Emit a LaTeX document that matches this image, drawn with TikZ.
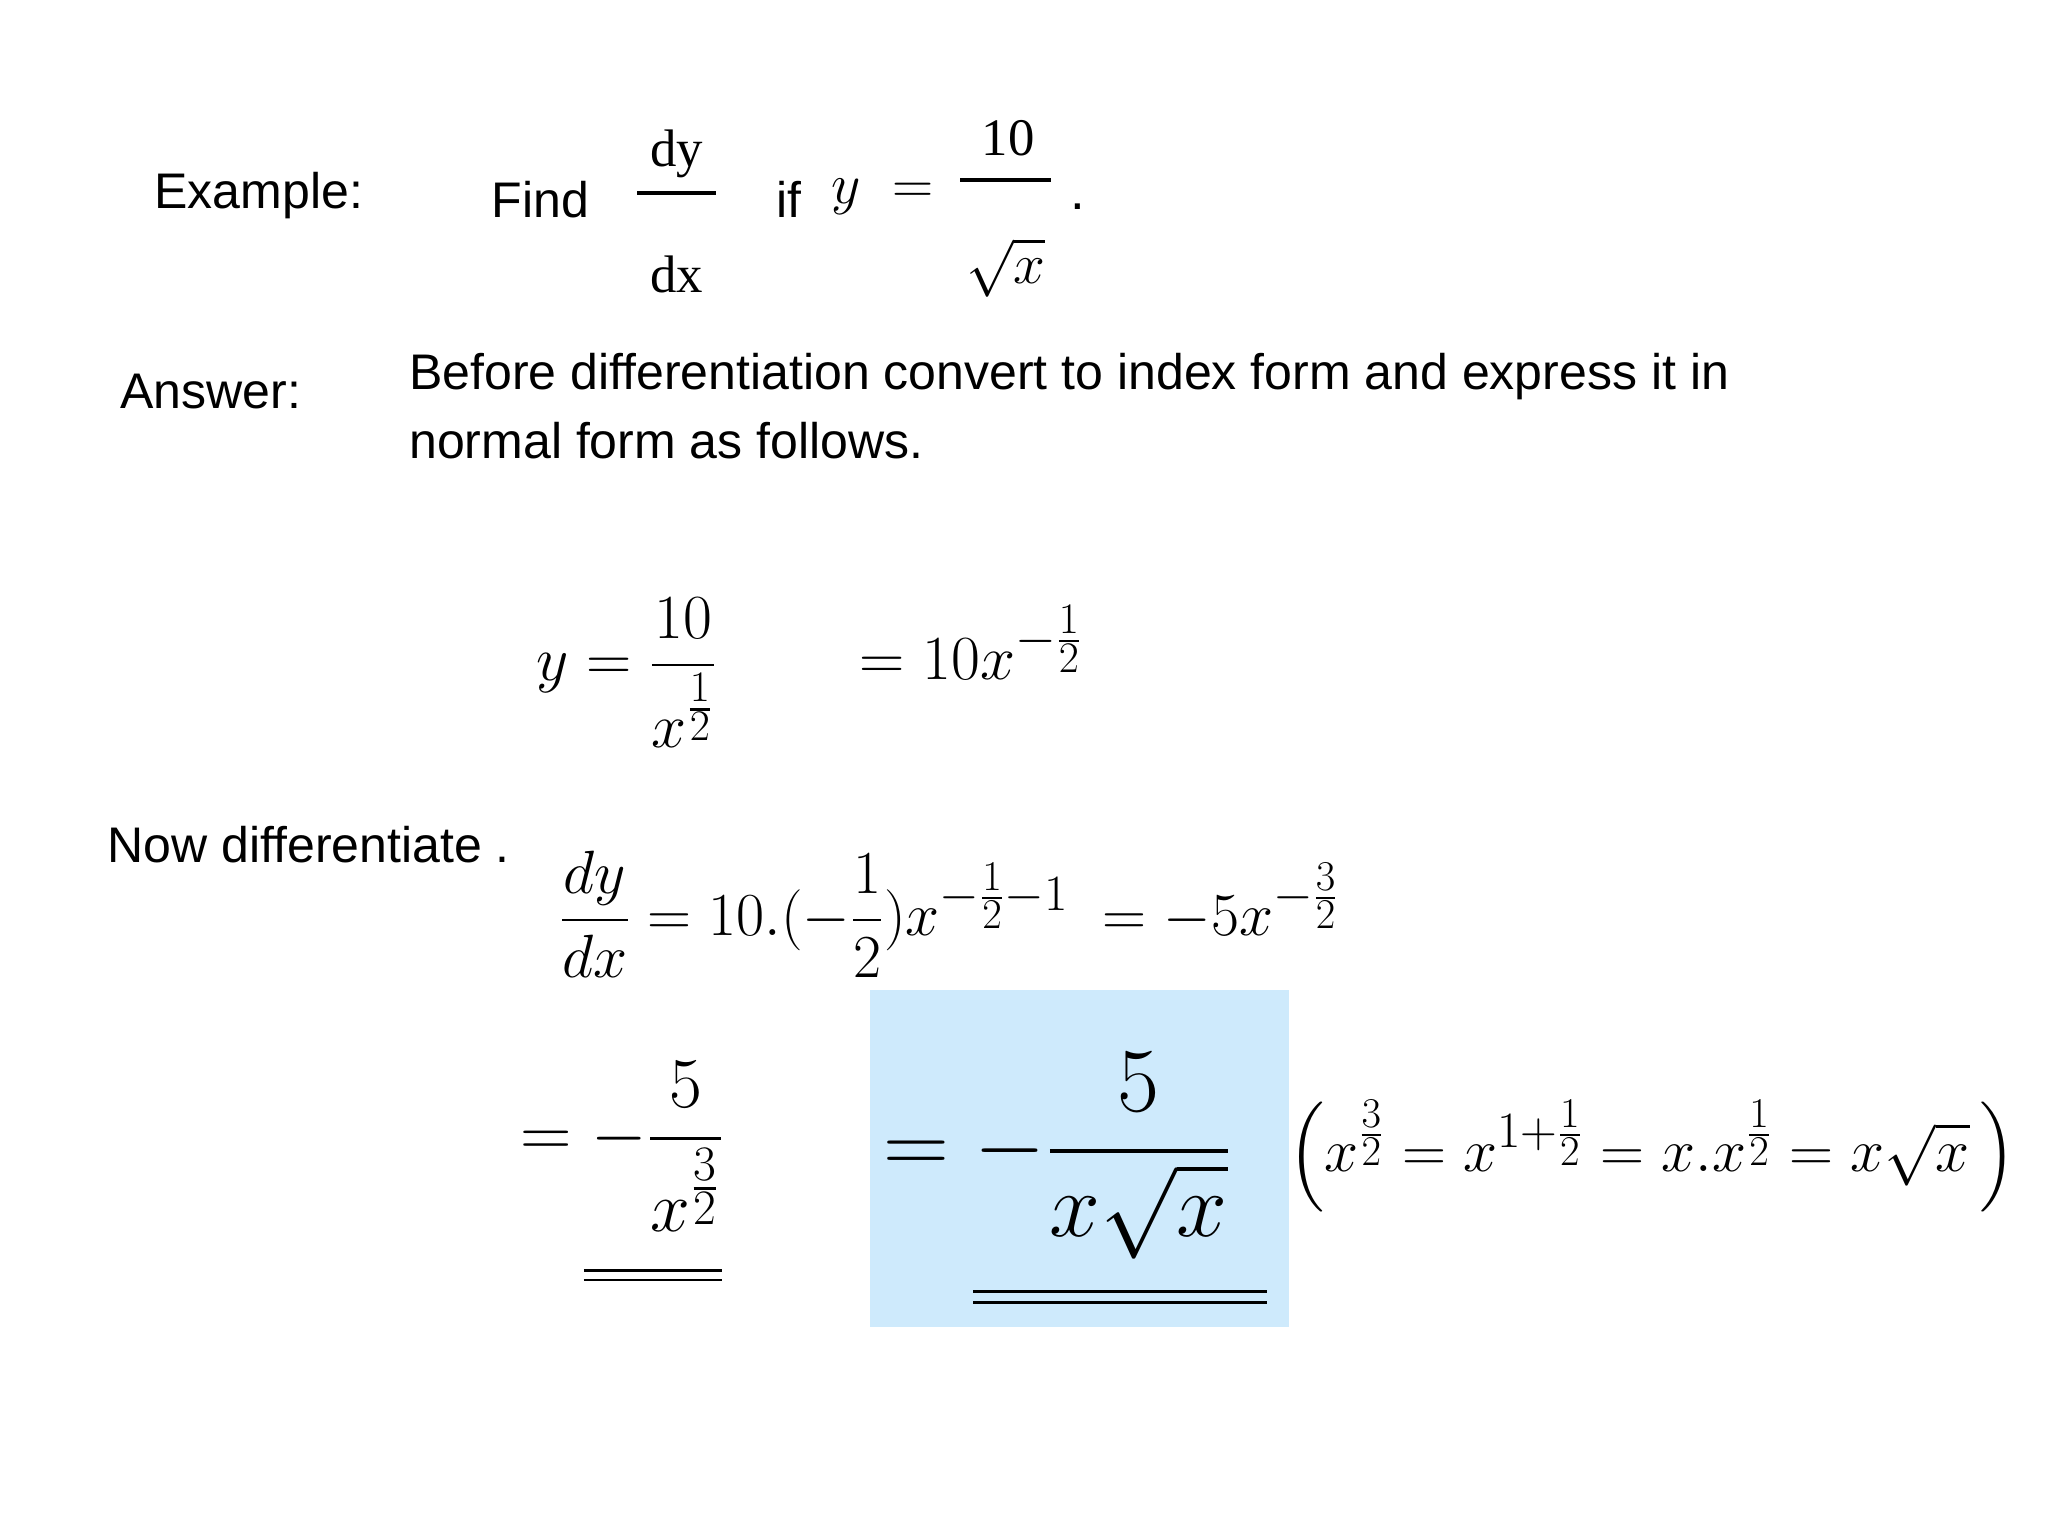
\documentclass[tikz,border=0pt]{standalone}
\usepackage{fontspec}
\usepackage{amsmath}
\usepackage{graphicx}
\setmainfont{Liberation Sans}
\newfontfamily\serifx{Liberation Serif}
\definecolor{boxblue}{RGB}{206,234,252}
\tikzset{
  sans/.style={anchor=west,inner sep=0pt,font=\fontsize{21.8}{30}\selectfont},
  mth/.style={inner sep=0pt,font=\fontsize{24.88}{30}\selectfont},
  sm/.style={inner sep=0pt,font=\fontsize{23}{27}\selectfont},
}
\begin{document}
\begin{tikzpicture}[x=0.02cm,y=-0.02cm]
\useasboundingbox (0,0) rectangle (1568,1176);
% header
\node[sans] (ex) at (118,150) {Example:};
\node[sans] (find) at (376,153) {Find};
\node[sm] (dy) at (518,118) {\serifx dy};
\draw[line width=1.6pt] (488,148) coordinate (f1) -- (548,148) coordinate (f2);
\node[sm] (dx) at (518,210) {\serifx dx};
\node[sans] (if) at (594,153) {if};
\node[sm] (yeq) at (676,151) {$y\;=$};
\node[sm] (ten) at (772,106) {\serifx 10};
\draw[line width=1.6pt] (735,138) coordinate (g1) -- (805,138) coordinate (g2);
\node[sm] (sq) at (770,205) {$\sqrt{x}$};
\node[sm] (dot) at (825,158) {.};
\node[sans] (ans) at (92,300) {Answer:};
\node[sans,anchor=north west,align=left] (txt) at (313,270) {Before differentiation convert to index form and express it in\\normal form as follows.};
% row 1
\node[mth] (r1) at (480,515) {\scalebox{1.1}{$y=\dfrac{10}{x^{\frac12}}$}};
\node[mth,anchor=west] (r1b) at (658,492) {\scalebox{1.1}{$=10x^{-\frac12}$}};
% row 2
\node[sans] (now) at (82,647) {Now differentiate .};
\node[mth,anchor=west] (r2) at (428,700) {\scalebox{1.07}{$\dfrac{dy}{dx}=10.(-\dfrac12)x^{-\frac12-1}\;=-5x^{-\frac32}$}};
% row 3
\node[mth,anchor=west] (r3) at (398,878) {\scalebox{1.25}{$=-\dfrac{5}{x^{\frac32}}$}};
\draw[line width=1.2pt] (447,973) coordinate (u1) -- (553,973) coordinate (u2);
\draw[line width=1.2pt] (447,980) coordinate (u3) -- (553,980) coordinate (u4);
% box
\fill[boxblue] (666,758) rectangle (987,1016);
\node[mth,anchor=west] (r4) at (676,885) {\scalebox{1.6}{$=-\dfrac{5}{x\sqrt{x}}$}};
\draw[line width=1.4pt] (745,989) coordinate (v1) -- (970,989) coordinate (v2);
\draw[line width=1.4pt] (745,997) coordinate (v3) -- (970,997) coordinate (v4);
% aside
\node[mth,anchor=west] (r5) at (986,885) {\scalebox{1.07}{$\left(x^{\frac32}=x^{1+\frac12}=x.x^{\frac12}=x\sqrt{x}\,\right)$}};
\end{tikzpicture}
\end{document}
